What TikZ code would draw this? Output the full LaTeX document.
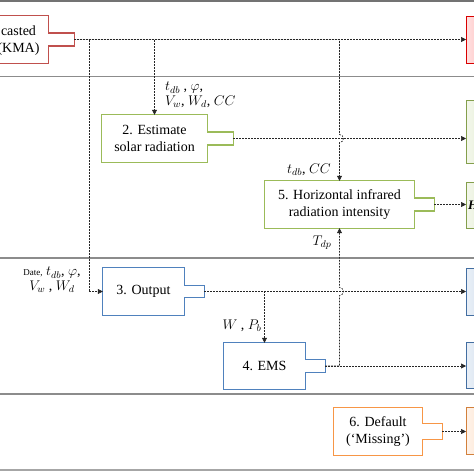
\RequirePackage{fix-cm}
\documentclass[tikz,border=0pt]{standalone}
\usepackage{fontspec}
\setmainfont{Liberation Serif}
\usetikzlibrary{arrows.meta}
\definecolor{kred}{HTML}{C0504D}
\definecolor{kgreen}{HTML}{9BBB59}
\definecolor{kblue}{HTML}{4F81BD}
\definecolor{korange}{HTML}{F79646}
\tikzset{
  sepline/.style={draw=black!45, line width=1.2pt},
  conn/.style={draw=black!85, line width=0.6pt, dash pattern=on 1.8pt off 1.2pt,
    -{Triangle[length=5pt,width=5pt]}},
  proc/.style={font=\fontsize{14}{17}\selectfont, align=center, inner sep=0pt},
  lbl/.style={font=\fontsize{14}{14.5}\selectfont, inner sep=0pt, align=center},
  rbox/.style={draw=#1!85!black, line width=0.8pt, left color=#1!12, right color=#1!40,
    minimum width=40pt, anchor=west, inner sep=0pt}
}
% #1 name, #2 colour, #3 cx, #4 cy, #5 w, #6 h, #7 tab width, #8 tab half height, #9 text
\newcommand{\tabbox}[9]{%
  \node[proc, minimum width=#5pt, minimum height=#6pt] (#1) at (#3,#4) {#9};
  \draw[draw=#2, line width=1.2pt, line join=miter]
    (#1.north west) -- (#1.north east) -- ([yshift=#8pt]#1.east)
    -- ([xshift=#7pt,yshift=#8pt]#1.east) -- ([xshift=#7pt,yshift=-#8pt]#1.east)
    -- ([yshift=-#8pt]#1.east) -- (#1.south east) -- (#1.south west) -- cycle;
  \coordinate (#1t) at ([xshift=#7pt]#1.east);
}
\begin{document}
\begin{tikzpicture}[x=1pt,y=-1pt]
\useasboundingbox (0,0) rectangle (474,474);
% separators
\draw[sepline, line width=2pt, draw=black!55] (0,1) -- (474,1);
\draw[sepline] (0,76.5) -- (474,76.5);
\draw[sepline] (0,258) -- (474,258);
\draw[sepline] (0,394) -- (474,394);
\draw[sepline, draw=black!35] (0,470) -- (474,470);
% right-hand (cut) boxes
\node[rbox=red, minimum height=47pt] (r1) at (466,39.5) {};
\node[rbox=kgreen, minimum height=63pt] (r2) at (466,131.5) {};
\node[rbox=kgreen, minimum height=46pt] (r3) at (466,205) {};
\node[rbox=kblue, minimum height=47pt] (r4) at (466,291.5) {};
\node[rbox=kblue, minimum height=46pt] (r5) at (466,365) {};
\node[rbox=korange, minimum height=47pt] (r6) at (466,431) {};
\node[font=\fontsize{13}{13}\selectfont\itshape\bfseries, anchor=west, inner sep=0pt] (r3t) at (468,205) {H};
% process boxes
\tabbox{b1}{kred}{-6}{39.5}{108}{47}{26}{6.5}{}
\node[proc] (b1text) at (18.5,41) {casted\\(KMA)};
\tabbox{b2}{kgreen}{154.5}{138.5}{105}{47}{26}{6.5}{2. Estimate\\solar radiation}
\tabbox{b5}{kgreen}{339.5}{204.5}{149}{47}{20}{6.5}{5. Horizontal infrared\\radiation intensity}
\tabbox{b3}{kblue}{143.5}{291.5}{81}{47}{20}{6}{3. Output}
\tabbox{b4}{kblue}{264.5}{366}{81}{46}{20}{6.5}{4. EMS}
\tabbox{b6}{korange}{378}{431.5}{88}{47}{20}{8}{6. Default\\(‘Missing’)}
% connectors
\coordinate (c1) at (89,39.5);
\coordinate (c1b) at (89,291.5);
\draw[conn] (b1t) -- (r1);
\draw[conn] (b1t) -- (c1) -- (c1b) -- (b3.west);
\draw[conn] (b1t) -| (b2.north);
\draw[conn] (b1t) -- (b1t -| b5.north) -- ([yshift=4pt]b5.north |- b2t)
  arc[start angle=90, end angle=-90, radius=4pt] -- (b5.north);
\draw[conn] (b2t) -- (b2t -| r2.west);
\draw[conn] (b5t) -- (b5t -| r3.west);
\draw[conn] (b3t) -- (b3t -| r4.west);
\draw[conn] (b3t) -| (b4.north);
\draw[conn] (b4t) -- (b4t -| r5.west);
\draw[conn] (b4t) -- (b4t -| b5.south) -- ([yshift=-4pt]b5.south |- b3t)
  arc[start angle=-90, end angle=90, radius=4pt] -- (b5.south);
\draw[conn] (b6t) -- (b6t -| r6.west);
% labels
\node[lbl, anchor=west, align=left] (l1) at (165,95) {$t_{db}$ , $\varphi$,\\$V_w$, $W_d$, $CC$};
\node[lbl] (l2) at (309,170) {$t_{db}$, $CC$};
\node[lbl] (l3) at (322,243) {$T_{dp}$};
\node[lbl] (l4) at (242,326) {$W$ , $P_b$};
\node[lbl] (l5) at (52,280) {{\fontsize{9}{9}\selectfont Date,} $t_{db}$, $\varphi$,\\$V_w$ , $W_d$};
\end{tikzpicture}
\end{document}
